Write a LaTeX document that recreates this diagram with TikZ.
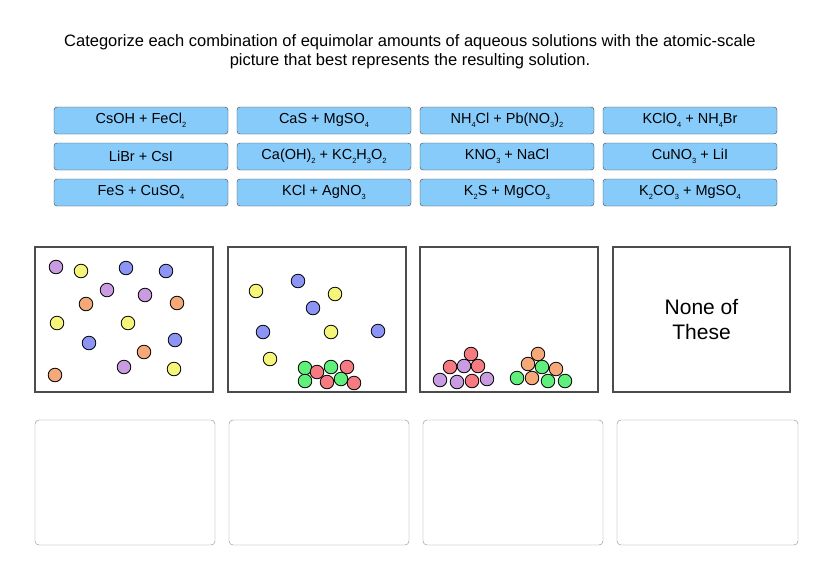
\documentclass[tikz,border=0pt]{standalone}
\usepackage{fontspec}
\setmainfont{Liberation Sans}
\newcommand{\chsub}[1]{\raisebox{-0.5ex}{\fontsize{7.5}{7.5}\selectfont #1}}
\begin{document}
\begin{tikzpicture}[x=1pt,y=-1pt,
  btn/.style={draw=black!75,rounded corners=3pt,minimum width=174pt,minimum height=27pt,inner sep=0pt,font=\fontsize{14.5}{16}\selectfont},
  pic/.style={draw=black!70,line width=1.2pt},
  slot/.style={draw=black!45,rounded corners=4pt},
  at/.style={draw=black,line width=0.8pt,fill=#1}]
\definecolor{bt}{HTML}{87CBFA}
\definecolor{cp}{HTML}{C99BE0}\definecolor{cy}{HTML}{F5F57A}\definecolor{cb}{HTML}{8C95F5}
\definecolor{co}{HTML}{F5A878}\definecolor{cg}{HTML}{5EF07A}\definecolor{cr}{HTML}{F57A82}
\useasboundingbox (0,0) rectangle (833,571);
\fill[white] (0,0) rectangle (833,571);
\node[font=\fontsize{16.5}{19}\selectfont,align=center] (title) at (410,52) {Categorize each combination of equimolar amounts of aqueous solutions with the atomic-scale\\picture that best represents the resulting solution.};
\tikzset{btn/.append style={fill=bt}}
\node[btn] (b11) at (141,120.5) {CsOH + FeCl\chsub{2}};
\node[btn] (b12) at (324,120.5) {CaS + MgSO\chsub{4}};
\node[btn] (b13) at (507,120.5) {NH\chsub{4}Cl + Pb(NO\chsub{3})\chsub{2}};
\node[btn] (b14) at (690,120.5) {KClO\chsub{4} + NH\chsub{4}Br};
\node[btn] (b21) at (141,156.5) {LiBr + CsI};
\node[btn] (b22) at (324,156.5) {Ca(OH)\chsub{2} + KC\chsub{2}H\chsub{3}O\chsub{2}};
\node[btn] (b23) at (507,156.5) {KNO\chsub{3} + NaCl};
\node[btn] (b24) at (690,156.5) {CuNO\chsub{3} + LiI};
\node[btn] (b31) at (141,192.5) {FeS + CuSO\chsub{4}};
\node[btn] (b32) at (324,192.5) {KCl + AgNO\chsub{3}};
\node[btn] (b33) at (507,192.5) {K\chsub{2}S + MgCO\chsub{3}};
\node[btn] (b34) at (690,192.5) {K\chsub{2}CO\chsub{3} + MgSO\chsub{4}};
\draw[pic] (35,247) rectangle (213,392);
\draw[pic] (228,247) rectangle (406,392);
\draw[pic] (420,247) rectangle (598,392);
\draw[pic] (613,247) rectangle (790,392);
\node[font=\fontsize{21}{25}\selectfont,align=center] (none) at (701.5,319) {None of\\These};
\foreach \x/\y/\c in {56/267/cp,81/271/cy,126/268/cb,166/271/cb,107/290/cp,145/295/cp,86/304/co,177/303/co,57/323/cy,128/323/cy,89/343/cb,175/340/cb,144/352/co,124/367/cp,174/369/cy,55/375/co,
256/291/cy,298/281/cb,335/294/cy,313/308/cb,263/332/cb,331/332/cy,378/331/cb,270/359/cy,
305/368/cg,317/372/cr,331/367/cg,347/367/cr,305/381/cg,327/382/cr,341/379/cg,354/383/cr,
471/354/cr,450/367/cr,464/366/cp,478/366/cr,440/380/cp,457/382/cp,472/381/cr,487/379/cp,
538/354/co,528/364/co,542/367/cg,556/369/co,517/378/cg,532/378/co,548/381/cg,565/381/cg}
  \draw[at=\c] (\x,\y) circle (6.8);
\draw[slot] (35,420) rectangle (215,545);
\draw[slot] (229,420) rectangle (409,545);
\draw[slot] (423,420) rectangle (603,545);
\draw[slot] (617,420) rectangle (798,545);
\end{tikzpicture}
\end{document}
